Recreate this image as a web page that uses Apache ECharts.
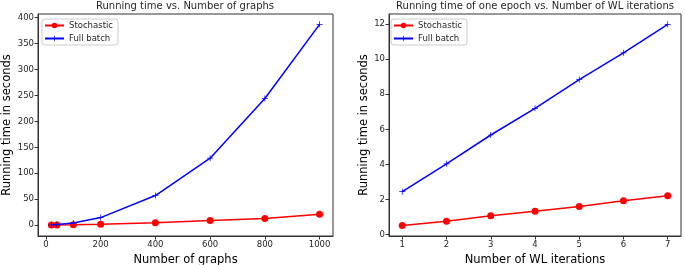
<!DOCTYPE html>
<html>
<head>
<meta charset="utf-8">
<script src="https://cdn.jsdelivr.net/npm/echarts@6/dist/echarts.min.js"></script>
<style>
  html, body { margin: 0; padding: 0; background: #fff; }
  #chart { width: 685px; height: 265px; }
</style>
</head>
<body>
<div id="chart"></div>
<script>
// left panel: running time vs number of graphs
const graphCounts = [20, 40, 100, 200, 400, 600, 800, 1000];
const graphStochastic = [0.2, 0.3, 0.6, 1.5, 4.5, 9, 12.8, 21];
const graphFullBatch = [0.5, 1, 4, 14.5, 57, 129, 244, 387];
const graphXTicks = [0, 200, 400, 600, 800, 1000];
const graphYTicks = [0, 50, 100, 150, 200, 250, 300, 350, 400];

// right panel: one epoch vs number of WL iterations
const wlIters = [1, 2, 3, 4, 5, 6, 7];
const wlStochastic = [0.52, 0.77, 1.08, 1.34, 1.61, 1.94, 2.22];
const wlFullBatch = [2.45, 4.04, 5.68, 7.2, 8.84, 10.36, 11.99];
const wlXTicks = [1, 2, 3, 4, 5, 6, 7];
const wlYTicks = [0, 2, 4, 6, 8, 10, 12];

const seriesNames = ["Stochastic", "Full batch"];

const FONT = "DejaVu Sans";
const DARK = "#262626";
const PLUS = "path://M4.4,0H5.6V10H4.4Z M0,4.4H10V5.6H0Z";

function pairs(xs, ys) {
  return xs.map((x, i) => [x, ys[i]]);
}

function axisBase(ticks) {
  return {
    type: "value",
    splitLine: { show: false },
    axisLine: { show: true, onZero: false, lineStyle: { color: "#333", width: 1 } },
    axisTick: { show: true, length: 3.5, customValues: ticks, lineStyle: { color: "#333" } },
    axisLabel: {
      customValues: ticks, color: DARK, fontSize: 8.5, fontFamily: FONT, margin: 4,
      formatter: v => String(v),
    },
    nameTextStyle: { color: "#000", fontSize: 11.5, fontFamily: FONT },
  };
}

function legendAt(left) {
  return {
    orient: "vertical",
    left: left,
    top: 19,
    data: seriesNames,
    itemWidth: 19,
    itemHeight: 7,
    itemGap: 4,
    padding: [2, 5, 2, 2],
    borderColor: "#ccc",
    borderWidth: 1,
    borderRadius: 3,
    backgroundColor: "#fff",
    textStyle: { color: DARK, fontSize: 8.5, fontFamily: FONT },
  };
}

function stochSeries(idx, data) {
  return {
    name: seriesNames[0],
    type: "line",
    xAxisIndex: idx,
    yAxisIndex: idx,
    data: data,
    symbol: "circle",
    symbolSize: 7,
    showAllSymbol: true,
    color: "#ff0000",
    lineStyle: { width: 1.5, color: "#ff0000" },
    itemStyle: { color: "#ff0000" },
    z: 2,
  };
}

function fullSeries(idx, data) {
  return {
    name: seriesNames[1],
    type: "line",
    xAxisIndex: idx,
    yAxisIndex: idx,
    data: data,
    symbol: PLUS,
    symbolSize: 6,
    showAllSymbol: true,
    color: "#0000ff",
    lineStyle: { width: 1.5, color: "#0000ff" },
    itemStyle: { color: "#0000ff" },
    z: 3,
  };
}

const chart = echarts.init(document.getElementById("chart"), null, { renderer: "canvas" });

const option = {
  backgroundColor: "#fff",
  animation: false,
  title: [
    {
      text: "Running time vs. Number of graphs",
      left: 185, top: 1, padding: 0, textAlign: "center",
      textStyle: { fontSize: 10, fontWeight: "normal", color: DARK, fontFamily: FONT },
    },
    {
      text: "Running time of one epoch vs. Number of WL iterations",
      left: 535, top: 1, padding: 0, textAlign: "center",
      textStyle: { fontSize: 10, fontWeight: "normal", color: DARK, fontFamily: FONT },
    },
  ],
  legend: [legendAt(42), legendAt(391)],
  grid: [
    { left: 38, top: 14, width: 295, height: 222, show: true, borderColor: "#333", borderWidth: 1, outerBoundsMode: "none" },
    { left: 389, top: 14, width: 292, height: 222, show: true, borderColor: "#333", borderWidth: 1, outerBoundsMode: "none" },
  ],
  xAxis: [
    Object.assign(axisBase(graphXTicks), {
      gridIndex: 0, min: -29, max: 1049,
      name: "Number of graphs", nameLocation: "middle", nameGap: 15,
    }),
    Object.assign(axisBase(wlXTicks), {
      gridIndex: 1, min: 0.7, max: 7.3,
      name: "Number of WL iterations", nameLocation: "middle", nameGap: 15,
    }),
  ],
  yAxis: [
    Object.assign(axisBase(graphYTicks), {
      gridIndex: 0, min: -21, max: 407,
      name: "Running time in seconds", nameLocation: "middle", nameGap: 25,
    }),
    Object.assign(axisBase(wlYTicks), {
      gridIndex: 1, min: -0.075, max: 12.575,
      name: "Running time in seconds", nameLocation: "middle", nameGap: 19,
    }),
  ],
  series: [
    stochSeries(0, pairs(graphCounts, graphStochastic)),
    fullSeries(0, pairs(graphCounts, graphFullBatch)),
    stochSeries(1, pairs(wlIters, wlStochastic)),
    fullSeries(1, pairs(wlIters, wlFullBatch)),
  ],
};

chart.setOption(option);
</script>
</body>
</html>
